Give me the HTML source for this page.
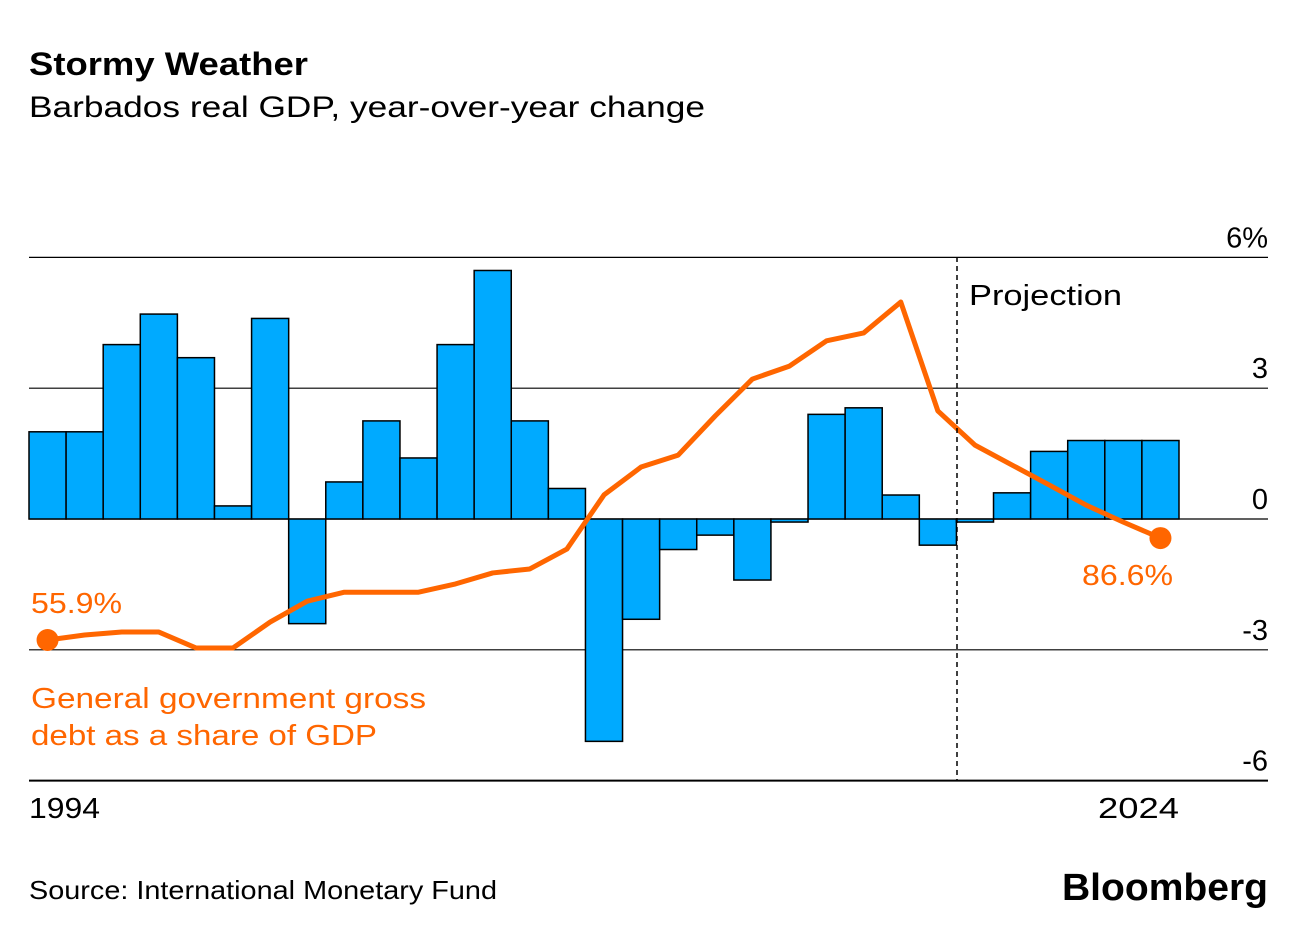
<!DOCTYPE html>
<html><head><meta charset="utf-8"><style>
body{margin:0;background:#fff;width:1296px;height:922px;overflow:hidden;font-family:"Liberation Sans",sans-serif;}
svg text{font-family:"Liberation Sans",sans-serif;}
</style></head><body>
<svg id="chart" width="1296" height="922">
<text x="29" y="75" font-size="32" font-weight="bold" fill="#000" textLength="279" lengthAdjust="spacingAndGlyphs">Stormy Weather</text>
<text x="29" y="117" font-size="30" fill="#000" textLength="676" lengthAdjust="spacingAndGlyphs">Barbados real GDP, year-over-year change</text>
<g id="grid"></g>
<g id="bars"></g>
<g id="line"></g>
<line x1="957" y1="257" x2="957" y2="780" stroke="#000" stroke-width="1.5" stroke-dasharray="5,4"/>
<text x="969" y="305" font-size="29" fill="#000" textLength="153" lengthAdjust="spacingAndGlyphs">Projection</text>
<text x="31" y="613" font-size="29" fill="#ff6600" textLength="91" lengthAdjust="spacingAndGlyphs">55.9%</text>
<text x="1082" y="585" font-size="29" fill="#ff6600" textLength="91" lengthAdjust="spacingAndGlyphs">86.6%</text>
<text x="31" y="708" font-size="29" fill="#ff6600" textLength="395" lengthAdjust="spacingAndGlyphs">General government gross</text>
<text x="31" y="745" font-size="29" fill="#ff6600" textLength="346" lengthAdjust="spacingAndGlyphs">debt as a share of GDP</text>
<text x="29" y="818" font-size="29" fill="#000" textLength="71" lengthAdjust="spacingAndGlyphs">1994</text>
<text x="1098" y="818" font-size="29" fill="#000" textLength="81" lengthAdjust="spacingAndGlyphs">2024</text>
<text x="29" y="899" font-size="26" fill="#000" textLength="468" lengthAdjust="spacingAndGlyphs">Source: International Monetary Fund</text>
<text x="1062" y="900" font-size="38" font-weight="bold" fill="#000" textLength="206" lengthAdjust="spacingAndGlyphs">Bloomberg</text>
</svg>
<script>
const years=[1994,1995,1996,1997,1998,1999,2000,2001,2002,2003,2004,2005,2006,2007,2008,2009,2010,2011,2012,2013,2014,2015,2016,2017,2018,2019,2020,2021,2022,2023,2024];
const gdp=[2.0,2.0,4.0,4.7,3.7,0.3,4.6,-2.4,0.85,2.25,1.4,4.0,5.7,2.25,0.7,-5.1,-2.3,-0.7,-0.37,-1.4,-0.07,2.4,2.55,0.55,-0.6,-0.07,0.6,1.55,1.8,1.8,1.8];
const debt=[55.9,57.4,58.3,58.3,53.5,53.5,61.3,67.6,70.3,70.3,70.3,72.8,76.1,77.3,83.3,99.6,108.0,111.6,123.4,134.5,138.4,146.0,148.4,157.7,124.9,114.6,108.6,102.6,96.5,91.4,86.6];
const ticks=[6,3,0,-3,-6];
const tickLabels=["6%","3","0","-3","-6"];
const NS="http://www.w3.org/2000/svg";
const x0=29,bw=(1179-29)/years.length;
const yG=v=>519-v*43.6;
const yD=d=>640-(d-55.9)*3.32;
const xB=i=>x0+i*bw;
function mk(t,a,p){const e=document.createElementNS(NS,t);for(const k in a)e.setAttribute(k,a[k]);p.appendChild(e);return e;}
const grid=document.getElementById('grid');
ticks.forEach((t,i)=>{
 const l=mk('line',{x1:29,x2:1268,y1:yG(t),y2:yG(t),stroke:'#000','stroke-width':t===-6?2:1.2},grid);
 
 
 const tx=mk('text',{x:1268,y:yG(t)-10,'font-size':29,'text-anchor':'end',fill:'#000'},grid);
 tx.textContent=tickLabels[i];
 
 
});
const bars=document.getElementById('bars');
gdp.forEach((v,i)=>{
 const y=Math.min(yG(v),yG(0)),h=Math.abs(yG(v)-yG(0));
 const r=mk('rect',{x:xB(i),y:y,width:bw,height:h,fill:'#00aaff',stroke:'#000','stroke-width':1.5},bars);
 
 
});
const lg=document.getElementById('line');
const pts=debt.map((d,i)=>(xB(i)+bw/2)+','+yD(d)).join(' ');
const pl=mk('polyline',{points:pts,fill:'none',stroke:'#ff6600','stroke-width':5,'stroke-linejoin':'round'},lg);


[0,debt.length-1].forEach(i=>{
 const c=mk('circle',{cx:xB(i)+bw/2,cy:yD(debt[i]),r:11,fill:'#ff6600'},lg);
 
 
});
</script>
</body></html>
